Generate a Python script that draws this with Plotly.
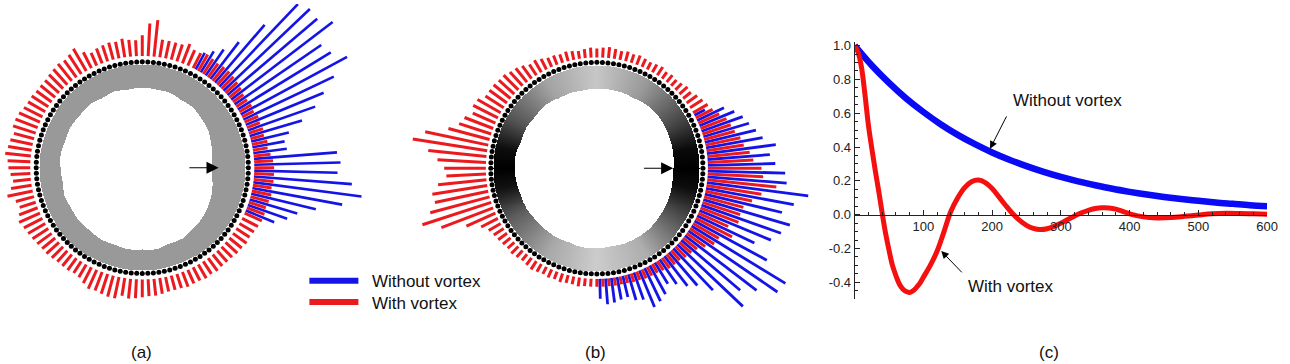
import numpy as np
import plotly.graph_objects as go

W, H = 1290, 364

# ---------------- data ----------------
ANG_STEP = 3  # degrees between neighbouring radial bars / ring dots
N_RING = 120

# panel (a): radial bar lengths, red bars start at 0 deg, step 3 deg
red_a_len = [20, 19, 17, 15, 16, 14, 15, 14, 15, 13, 14, 13, 13, 15, 16, 17, 18, 18, 17, 18,
             19, 17, 17, 21, 18, 18, 18, 18, 37, 33, 21, 16, 17, 19, 17, 18, 17, 16, 14, 18,
             26, 23, 21, 22, 21, 20, 19, 19, 19, 20, 20, 21, 23, 24, 24, 21, 23, 24, 26, 23,
             22, 20, 18, 21, 26, 19, 17, 20, 23, 21, 20, 19, 18, 17, 17, 16, 15, 15, 15, 14,
             15, 18, 21, 20, 21, 22, 22, 18, 20, 19, 18, 17, 17, 16, 15, 15, 15, 16, 15, 15,
             16, 15, 16, 15, 15, 15, 16, 16, 17, 16, 17, 18, 19, 19, 18, 19, 20, 19, 20, 20]
blue_a_start = -22.5
blue_a_len = [31, 42, 50, 67, 92, 110, 99, 84, 87, 84, 34, 33, 39, 55, 72, 85, 101, 122, 110,
              106, 129, 119, 120, 115, 77, 47, 32, 25, 19]

# panel (b)
red_b_len = [54, 46, 43, 38, 36, 32, 30, 28, 23, 19, 17, 15, 13, 10, 11, 9, 8, 9, 8, 10,
             9, 8, 9, 10, 9, 10, 9, 10, 11, 10, 9, 10, 9, 8, 9, 10, 9, 10, 10, 12,
             14, 13, 16, 18, 19, 21, 21, 22, 22, 22, 27, 28, 25, 31, 34, 43, 65, 76, 59, 49,
             42, 40, 49, 56, 55, 62, 73, 56, 32, 19, 14, 12, 11, 10, 9, 10, 9, 8, 9, 10,
             9, 8, 9, 8, 9, 8, 8, 9, 8, 8, 8, 8, 8, 8, 8, 8, 9, 9, 10, 10,
             10, 11, 13, 13, 13, 15, 16, 18, 23, 29, 30, 41, 33, 41, 40, 41, 48, 56, 70, 56]
blue_b_start = -88.5
blue_b_len = [20, 26, 25, 23, 22, 27, 29, 40, 37, 33, 25, 30, 38, 44, 58, 91, 78, 91, 109, 111,
              83, 64, 78, 85, 91, 80, 90, 103, 80, 78, 68, 63, 70, 58, 53, 48, 44, 38, 30, 12]

# annulus shapes (radius of the ragged inner edge every 10 deg) and panel-(b) gray level
shape_ang = list(range(0, 360, 10))
inner_a = [70, 72, 74, 77, 78, 80, 79, 81, 80, 81, 80, 82, 81, 83, 82, 83, 82, 83,
           82, 81, 83, 82, 83, 82, 83, 82, 83, 82, 83, 81, 82, 80, 79, 77, 75, 72]
inner_b = [77, 78, 79, 80, 81, 81, 80, 81, 81, 81, 80, 81, 81, 82, 81, 82, 81, 83,
           83, 82, 81, 82, 81, 81, 81, 80, 81, 81, 80, 81, 81, 81, 80, 79, 78, 77]
gray_ang = [0, 12, 30, 60, 90, 120, 150, 168, 180, 192, 210, 240, 270, 300, 330, 348]
gray_lvl = [0.0, 0.04, 0.28, 0.6, 0.78, 0.64, 0.33, 0.05, 0.0, 0.07, 0.36, 0.66, 0.8, 0.68, 0.3, 0.05]

# panel (c) correlation curves
t_blue = [0, 25, 50, 75, 100, 125, 150, 175, 200, 225, 250, 275, 300, 325, 350, 375, 400,
          425, 450, 475, 500, 525, 550, 575, 600]
v_blue = [1.0, 0.882, 0.779, 0.687, 0.607, 0.535, 0.472, 0.417, 0.368, 0.325, 0.287, 0.253,
          0.223, 0.197, 0.174, 0.153, 0.135, 0.119, 0.105, 0.093, 0.082, 0.072, 0.064, 0.056, 0.05]
t_red = [0, 5, 10, 15, 20, 25, 30, 35, 40, 45, 50, 55, 60, 65, 70, 75, 80, 85, 90, 95, 100,
         110, 120, 130, 140, 150, 160, 170, 180, 190, 200, 210, 220, 230, 240, 250, 260, 270,
         280, 290, 300, 310, 320, 330, 340, 350, 360, 370, 380, 390, 400, 420, 440, 460, 480,
         500, 520, 540, 560, 580, 600]
v_red = [1.0, 0.96, 0.87, 0.71, 0.53, 0.39, 0.26, 0.14, 0.01, -0.11, -0.21, -0.30, -0.36,
         -0.41, -0.44, -0.455, -0.46, -0.45, -0.43, -0.405, -0.37, -0.30, -0.215, -0.1, 0.02,
         0.1, 0.16, 0.195, 0.205, 0.19, 0.155, 0.105, 0.053, 0.005, -0.034, -0.063, -0.081,
         -0.088, -0.083, -0.069, -0.05, -0.029, -0.008, 0.011, 0.026, 0.036, 0.041, 0.04, 0.033,
         0.02, 0.005, -0.013, -0.019, -0.017, -0.01, -0.002, 0.005, 0.008, 0.007, 0.005, 0.003]

y_ticks = [-0.4, -0.2, 0.0, 0.2, 0.4, 0.6, 0.8, 1.0]
y_ticktext = ["-0.4", "-0.2", "0.0", "0.2", "0.4", "0.6", "0.8", "1.0"]
x_ticks = [100, 200, 300, 400, 500, 600]

BLUE = "#1414e6"
RED = "#ea1a1f"
FONT = "Liberation Sans"

# ---------------- geometry helpers ----------------
R_DOTS = 107
BAR_BASE_A = 113
BAR_BASE_B = 112


def radial_segments(start_deg, lengths, base):
    xs, ys = [], []
    for k, L in enumerate(lengths):
        th = np.deg2rad(start_deg + k * ANG_STEP)
        c, s = np.cos(th), np.sin(th)
        xs += [base * c, (base + L) * c, None]
        ys += [base * s, (base + L) * s, None]
    return xs, ys


def annulus(inner_pts, outer, level_fn):
    g = np.arange(-outer - 1, outer + 2, 1.0)
    X, Y = np.meshgrid(g, g)
    R = np.hypot(X, Y)
    TH = np.degrees(np.arctan2(Y, X)) % 360
    inner = np.interp(TH, shape_ang, inner_pts, period=360)
    Z = level_fn(TH)
    Z = np.where((R >= inner) & (R <= outer), Z, np.nan)
    return g, Z


fig = go.Figure()

gray_scale = [[0, "rgb(0,0,0)"], [1, "rgb(255,255,255)"]]

# ---- panel (a)
ga, Za = annulus(inner_a, 104, lambda th: np.full_like(th, 0.6))
fig.add_trace(go.Heatmap(x=ga, y=ga, z=Za, colorscale=gray_scale, zmin=0, zmax=1,
                         showscale=False, hoverinfo="skip", xaxis="x", yaxis="y"))
# ---- panel (b)
gb, Zb = annulus(inner_b, 104, lambda th: np.interp(th, gray_ang, gray_lvl, period=360))
fig.add_trace(go.Heatmap(x=gb, y=gb, z=Zb, colorscale=gray_scale, zmin=0, zmax=1,
                         showscale=False, hoverinfo="skip", xaxis="x2", yaxis="y2"))

ring_th = np.deg2rad(np.arange(N_RING) * ANG_STEP)
for xa, ya in (("x", "y"), ("x2", "y2")):
    fig.add_trace(go.Scatter(x=R_DOTS * np.cos(ring_th), y=R_DOTS * np.sin(ring_th),
                             mode="markers", marker=dict(size=5, color="black"),
                             showlegend=False, hoverinfo="skip", xaxis=xa, yaxis=ya))

bx, by = radial_segments(blue_a_start, blue_a_len, BAR_BASE_A)
fig.add_trace(go.Scatter(x=bx, y=by, mode="lines", line=dict(color=BLUE, width=2.6),
                         showlegend=False, hoverinfo="skip", xaxis="x", yaxis="y"))
rx, ry = radial_segments(0, red_a_len, BAR_BASE_A)
fig.add_trace(go.Scatter(x=rx, y=ry, mode="lines", line=dict(color=RED, width=3),
                         showlegend=False, hoverinfo="skip", xaxis="x", yaxis="y"))

bx, by = radial_segments(blue_b_start, blue_b_len, BAR_BASE_B)
fig.add_trace(go.Scatter(x=bx, y=by, mode="lines", line=dict(color=BLUE, width=2.8),
                         showlegend=False, hoverinfo="skip", xaxis="x2", yaxis="y2"))
rx, ry = radial_segments(0, red_b_len, BAR_BASE_B)
fig.add_trace(go.Scatter(x=rx, y=ry, mode="lines", line=dict(color=RED, width=3),
                         showlegend=False, hoverinfo="skip", xaxis="x2", yaxis="y2"))

# legend entries (one legend box each, so their spacing can follow the reference)
fig.add_trace(go.Scatter(x=[None], y=[None], mode="lines", name="\u2002Without vortex",
                         line=dict(color=BLUE, width=6), xaxis="x", yaxis="y", legend="legend"))
fig.add_trace(go.Scatter(x=[None], y=[None], mode="lines", name="\u2002With vortex",
                         line=dict(color=RED, width=6), xaxis="x", yaxis="y", legend="legend2"))

# ---- panel (c)
fig.add_trace(go.Scatter(x=t_blue, y=v_blue, mode="lines", line=dict(color="#0a0af5", width=6.5, shape="spline"),
                         showlegend=False, hoverinfo="skip", xaxis="x3", yaxis="y3"))
fig.add_trace(go.Scatter(x=t_red, y=v_red, mode="lines", line=dict(color="#f51010", width=5, shape="spline"),
                         showlegend=False, hoverinfo="skip", xaxis="x3", yaxis="y3"))

# ---------------- layout ----------------
def px_x(p):
    return p / W


def px_y(p):
    return 1 - p / H


CA = (143.5, 165.5)
CB = (602.0, 166.0)
A_X = (0, 385)
B_X = (395, 830)
AB_Y = (0, 325)

y3_range = [-0.5, 1.02]
y3_dom = [px_y(298.5), px_y(38.6)]
x3_dom = [px_x(862), px_x(1278)]
zero_pos = y3_dom[0] + (0 - y3_range[0]) / (y3_range[1] - y3_range[0]) * (y3_dom[1] - y3_dom[0])

hidden = dict(visible=False, showgrid=False, zeroline=False, fixedrange=True)
legend_common = dict(xanchor="left", yanchor="top", bgcolor="rgba(0,0,0,0)", borderwidth=0,
                     itemwidth=49, font=dict(size=17, family=FONT, color="#111"))

fig.update_layout(
    width=W, height=H, margin=dict(l=0, r=0, t=0, b=0),
    paper_bgcolor="white", plot_bgcolor="rgba(0,0,0,0)",
    font=dict(family=FONT, color="#111"),
    xaxis=dict(domain=[px_x(A_X[0]), px_x(A_X[1])], range=[A_X[0] - CA[0], A_X[1] - CA[0]], **hidden),
    yaxis=dict(domain=[px_y(AB_Y[1]), px_y(AB_Y[0])], range=[CA[1] - AB_Y[1], CA[1] - AB_Y[0]], **hidden),
    xaxis2=dict(domain=[px_x(B_X[0]), px_x(B_X[1])], range=[B_X[0] - CB[0], B_X[1] - CB[0]], **hidden),
    yaxis2=dict(domain=[px_y(AB_Y[1]), px_y(AB_Y[0])], range=[CB[1] - AB_Y[1], CB[1] - AB_Y[0]], **hidden),
    xaxis3=dict(domain=x3_dom, range=[0, 600], anchor="free", position=zero_pos,
                showgrid=False, zeroline=False, showline=True, linecolor="#222", linewidth=1,
                tickmode="array", tickvals=x_ticks, ticks="inside", ticklen=5, tickcolor="#222",
                minor=dict(tickmode="linear", tick0=0, dtick=20, ticks="inside", ticklen=3, tickcolor="#222"),
                tickfont=dict(size=13, color="#222"), fixedrange=True),
    yaxis3=dict(domain=y3_dom, range=y3_range, anchor="x3",
                showgrid=False, zeroline=False, showline=True, linecolor="#222", linewidth=1,
                tickmode="array", tickvals=y_ticks, ticktext=y_ticktext, ticks="inside", ticklen=5,
                tickcolor="#222",
                minor=dict(tickmode="linear", tick0=0, dtick=0.05, ticks="inside", ticklen=3, tickcolor="#222"),
                tickfont=dict(size=13, color="#222"), fixedrange=True),
    showlegend=True,
    legend=dict(x=px_x(307), y=px_y(262), **legend_common),
    legend2=dict(x=px_x(307), y=px_y(283.5), **legend_common),
)

ann = []
# small black arrows inside the rings
for xr, yr in (("x", "y"), ("x2", "y2")):
    ann.append(dict(x=77, y=0, ax=46, ay=0, xref=xr, yref=yr, axref=xr, ayref=yr,
                    text="", showarrow=True, arrowhead=2, arrowsize=2.2, arrowwidth=1.1,
                    arrowcolor="black", standoff=0))
# panel (c) callouts
ann.append(dict(x=197, y=0.39, ax=222, ay=0.59, xref="x3", yref="y3", axref="x3", ayref="y3",
                text="", showarrow=True, arrowhead=2, arrowsize=1.5, arrowwidth=1,
                arrowcolor="black", standoff=0))
ann.append(dict(x=126, y=-0.215, ax=158, ay=-0.35, xref="x3", yref="y3", axref="x3", ayref="y3",
                text="", showarrow=True, arrowhead=2, arrowsize=1.5, arrowwidth=1,
                arrowcolor="black", standoff=0))
ann.append(dict(x=310, y=0.678, xref="x3", yref="y3", text="Without vortex", showarrow=False,
                xanchor="center", yanchor="middle", font=dict(size=17, family=FONT, color="#111")))
ann.append(dict(x=228, y=-0.427, xref="x3", yref="y3", text="With vortex", showarrow=False,
                xanchor="center", yanchor="middle", font=dict(size=17, family=FONT, color="#111")))
for lab, cx in (("(a)", 143), ("(b)", 601), ("(c)", 1058)):
    ann.append(dict(x=px_x(cx), y=px_y(352), xref="paper", yref="paper", text=lab,
                    xanchor="center", yanchor="middle", showarrow=False,
                    font=dict(size=17, family=FONT, color="#111")))
fig.update_layout(annotations=ann)

# the page's default 8px body margin would shift the whole figure; remove it
fig.write_html("out.html", config={"displayModeBar": False},
               post_script="document.body.style.margin='0';")
